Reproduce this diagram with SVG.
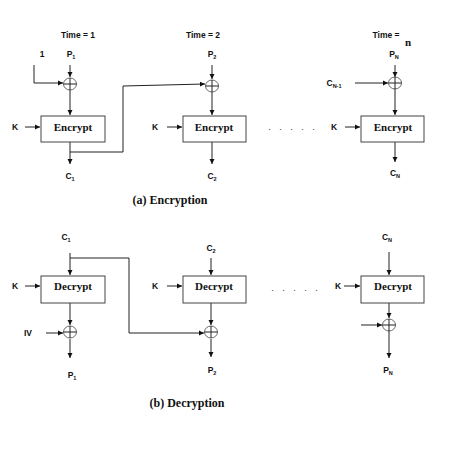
<svg xmlns="http://www.w3.org/2000/svg" width="474" height="456" viewBox="0 0 474 456">
<style>
.lbl{font-family:"Liberation Sans",Arial,sans-serif;font-weight:bold;font-size:8.5px;fill:#111;text-anchor:middle}
.sub{font-size:5.5px}
.box{fill:#fff;stroke:#444;stroke-width:1}
.bt{font-family:"Liberation Serif","Times New Roman",serif;font-weight:bold;font-size:11px;fill:#111;text-anchor:middle}
.cap{font-family:"Liberation Serif","Times New Roman",serif;font-weight:bold;font-size:12px;fill:#111;text-anchor:middle}
.ln{fill:none;stroke:#222;stroke-width:1}
.x{fill:#fff;stroke:#444;stroke-width:0.8}
.dots{font-family:"Liberation Sans",Arial,sans-serif;font-size:9px;fill:#333;text-anchor:middle;letter-spacing:3px}
</style>
<defs>
<marker id="a" markerWidth="6" markerHeight="6" refX="5" refY="3" orient="auto" markerUnits="userSpaceOnUse">
<path d="M0,0.5 L5,3 L0,5.5 Z" fill="#111"/>
</marker>
</defs>
<rect width="474" height="456" fill="#fff"/>

<g id="connectors">
<path class="ln" d="M34,65 V83 H63" marker-end="url(#a)"/>
<path class="ln" d="M70,65 V77" marker-end="url(#a)"/>
<path class="ln" d="M70,90 V115" marker-end="url(#a)"/>
<path class="ln" d="M25,127 H40" marker-end="url(#a)"/>
<path class="ln" d="M70,142 V164" marker-end="url(#a)"/>
<path class="ln" d="M70,152 H123 V86 L205,84" marker-end="url(#a)"/>
<path class="ln" d="M212,65 V79" marker-end="url(#a)"/>
<path class="ln" d="M212,92 V115" marker-end="url(#a)"/>
<path class="ln" d="M167,127 H182" marker-end="url(#a)"/>
<path class="ln" d="M212,142 V164" marker-end="url(#a)"/>
<path class="ln" d="M395,65 V77" marker-end="url(#a)"/>
<path class="ln" d="M355,83 H388" marker-end="url(#a)"/>
<path class="ln" d="M395,89 V115" marker-end="url(#a)"/>
<path class="ln" d="M345,127 H360" marker-end="url(#a)"/>
<path class="ln" d="M395,142 V162" marker-end="url(#a)"/>
<path class="ln" d="M70,253 V275" marker-end="url(#a)"/>
<path class="ln" d="M70,258 H129 V333 H204" marker-end="url(#a)"/>
<path class="ln" d="M25,286 H40" marker-end="url(#a)"/>
<path class="ln" d="M70,303 V325" marker-end="url(#a)"/>
<path class="ln" d="M46,333 H63" marker-end="url(#a)"/>
<path class="ln" d="M70,339 V358" marker-end="url(#a)"/>
<path class="ln" d="M211,258 V275" marker-end="url(#a)"/>
<path class="ln" d="M167,286 H182" marker-end="url(#a)"/>
<path class="ln" d="M211,303 V325" marker-end="url(#a)"/>
<path class="ln" d="M211,339 V357" marker-end="url(#a)"/>
<path class="ln" d="M389,252 V275" marker-end="url(#a)"/>
<path class="ln" d="M344,286 H360" marker-end="url(#a)"/>
<path class="ln" d="M389,303 V318" marker-end="url(#a)"/>
<path class="ln" d="M361,325 H382" marker-end="url(#a)"/>
<path class="ln" d="M389,331 V358" marker-end="url(#a)"/>
</g>

<g id="enc1">
<text class="lbl" x="78" y="38">Time = 1</text>
<text class="lbl" x="42" y="57">1</text>
<text class="lbl" x="71" y="57">P<tspan class="sub" dy="1.5">1</tspan></text>
<g id="xor-e1"><ellipse class="x" cx="70" cy="84" rx="6.5" ry="6"/><path class="ln" stroke-width="0.8" d="M63.5,84 H76.5 M70,78 V90"/></g>
<rect class="box" x="41" y="116" width="64" height="26"/>
<text class="bt" x="73" y="131">Encrypt</text>
<text class="lbl" x="15" y="130">K</text>
<text class="lbl" x="70" y="179">C<tspan class="sub" dy="1.5">1</tspan></text>
</g>

<g id="enc2">
<text class="lbl" x="203" y="38">Time = 2</text>
<text class="lbl" x="212" y="57">P<tspan class="sub" dy="1.5">2</tspan></text>
<g id="xor-e2"><ellipse class="x" cx="212" cy="86" rx="6.5" ry="6"/><path class="ln" stroke-width="0.8" d="M205.5,86 H218.5 M212,80 V92"/></g>
<rect class="box" x="183" y="116" width="63" height="26"/>
<text class="bt" x="214" y="131">Encrypt</text>
<text class="lbl" x="155" y="130">K</text>
<text class="lbl" x="212" y="179">C<tspan class="sub" dy="1.5">2</tspan></text>
</g>

<g id="encN">
<text class="lbl" x="386" y="38">Time =</text>
<text class="bt" x="408" y="46" font-size="13">n</text>
<text class="lbl" x="394" y="57">P<tspan class="sub" dy="1.5">N</tspan></text>
<text class="lbl" x="334" y="86">C<tspan class="sub" dy="1.5">N-1</tspan></text>
<g id="xor-eN"><ellipse class="x" cx="395" cy="83" rx="6.5" ry="6"/><path class="ln" stroke-width="0.8" d="M388.5,83 H401.5 M395,77 V89"/></g>
<rect class="box" x="361" y="116" width="63" height="26"/>
<text class="bt" x="393" y="131">Encrypt</text>
<text class="lbl" x="334" y="130">K</text>
<text class="lbl" x="395" y="176">C<tspan class="sub" dy="1.5">N</tspan></text>
</g>

<text class="dots" x="293" y="130">. . . . .</text>
<text class="cap" x="170" y="204">(a) Encryption</text>

<g id="dec1">
<text class="lbl" x="66" y="240">C<tspan class="sub" dy="1.5">1</tspan></text>
<rect class="box" x="41" y="276" width="64" height="27"/>
<text class="bt" x="73" y="290">Decrypt</text>
<text class="lbl" x="15" y="289">K</text>
<text class="lbl" x="28" y="336">IV</text>
<g id="xor-d1"><ellipse class="x" cx="70" cy="332" rx="6.5" ry="6"/><path class="ln" stroke-width="0.8" d="M63.5,332 H76.5 M70,326 V338"/></g>
<text class="lbl" x="72" y="378">P<tspan class="sub" dy="1.5">1</tspan></text>
</g>

<g id="dec2">
<text class="lbl" x="211" y="251">C<tspan class="sub" dy="1.5">2</tspan></text>
<rect class="box" x="183" y="276" width="63" height="27"/>
<text class="bt" x="214" y="290">Decrypt</text>
<text class="lbl" x="155" y="289">K</text>
<g id="xor-d2"><ellipse class="x" cx="211" cy="332" rx="6.5" ry="6"/><path class="ln" stroke-width="0.8" d="M204.5,332 H217.5 M211,326 V338"/></g>
<text class="lbl" x="212" y="373">P<tspan class="sub" dy="1.5">2</tspan></text>
</g>

<g id="decN">
<text class="lbl" x="387" y="240">C<tspan class="sub" dy="1.5">N</tspan></text>
<rect class="box" x="361" y="276" width="63" height="27"/>
<text class="bt" x="393" y="290">Decrypt</text>
<text class="lbl" x="338" y="289">K</text>
<g id="xor-dN"><ellipse class="x" cx="389" cy="325" rx="6.5" ry="6"/><path class="ln" stroke-width="0.8" d="M382.5,325 H395.5 M389,319 V331"/></g>
<text class="lbl" x="388" y="373">P<tspan class="sub" dy="1.5">N</tspan></text>
</g>

<text class="dots" x="296" y="291">. . . . .</text>
<text class="cap" x="187" y="407">(b) Decryption</text>
</svg>
